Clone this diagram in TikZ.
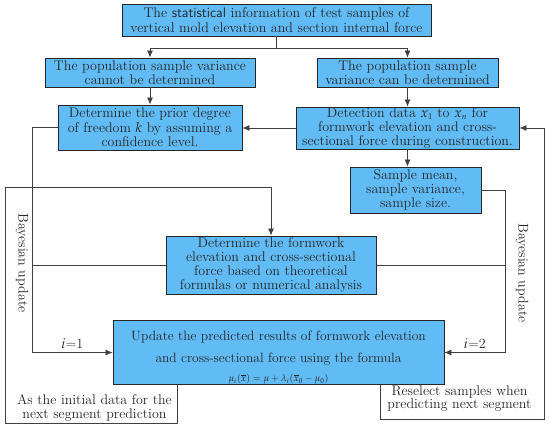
\documentclass[tikz,border=0pt]{standalone}
\usepackage{mathpazo}
\usetikzlibrary{arrows.meta, positioning}
\definecolor{boxblue}{RGB}{97,187,245}

\begin{document}
\begin{tikzpicture}[x=1pt,y=-1pt,>={Latex[length=7pt,width=6pt]},
  box/.style={draw=black!85, fill=boxblue, line width=0.9pt, align=center,
    inner sep=0pt, font=\fontsize{14}{14.3}\selectfont, text=black!85},
  link/.style={draw=black!75, line width=0.8pt},
  lbl/.style={align=center, font=\fontsize{14}{13.5}\selectfont, text=black!85}]

\useasboundingbox (0,0) rectangle (550,428);

% define the boxes
  \node[box, minimum width=309pt, minimum height=32pt] (info) at (276.5,20)
{The \textsf{statistical} information of test samples of\\vertical mold elevation and section internal force};
  \node[box, minimum width=210pt, minimum height=29pt] (cannot) at (150,72.5)
{The population sample variance\\cannot be determined};
  \node[box, minimum width=181pt, minimum height=29pt] (can) at (407.5,72.5)
{The population sample\\variance can be determined};
  \node[box, minimum width=184pt, minimum height=45pt] (prior) at (150,127.5)
{Determine the prior degree\\of freedom $k$ by assuming a\\confidence level.};
  \node[box, minimum width=223pt, minimum height=42pt] (detect) at (407.5,128)
{Detection data $x_{\scriptscriptstyle 1}$ to $x_{\scriptscriptstyle n}$ for\\formwork elevation and cross-\\sectional force during construction.};
  \node[box, minimum width=131pt, minimum height=46pt] (sample) at (415.5,190)
{Sample mean,\\sample variance,\\sample size.};
  \node[box, minimum width=210pt, minimum height=58pt] (theory) at (271,265)
{Determine the formwork\\elevation and cross-sectional\\force based on theoretical\\formulas or numerical analysis};
  \node[box, minimum width=331pt, minimum height=63pt, font=\fontsize{13.5}{15}\selectfont] (update) at (278.5,352.5)
{\rule{0pt}{19.5pt}Update the predicted results of formwork elevation\\[7pt]and cross-sectional force using the formula\\[4pt]
{\fontsize{9.5}{10}\selectfont $\mu_i(\overline{x}) = \mu + \lambda_i(\overline{x}_0 - \mu_0)$}};

% helper points
  \coordinate (split) at (276.5,48);
  \coordinate (lbay) at (32,352.5);
  \coordinate (rbay) at (505,352.5);
  \coordinate (ldown) at (177,423);
  \coordinate (lup) at (5,187);
  \coordinate (rdown) at (380,419);
  \coordinate (rup) at (544,128);

% define the links
  \draw[link] (info.south) -- (split);
  \draw[link,->] (split) -| (cannot.north);
  \draw[link,->] (split) -| (can.north);
  \draw[link,->] (cannot.south) -- (prior.north);
  \draw[link,->] (can.south) -- (detect.north);
  \draw[link,->] (detect.west) -- (detect.west -| prior.east);
  \draw[link,->] (detect.south) -- (detect.south |- sample.north);

  \draw[link,->] (prior.west) -| (lbay) -- node[lbl, above] {$i$=1} (update.west);
  \draw[link] (theory.west) -- (theory.west -| lbay);
  \draw[link,->] (sample.east) -| (rbay) -- node[lbl, above] {$i$=2} (update.east);
  \draw[link] (theory.east) -- (theory.east -| rbay);

  \draw[link,->] (ldown |- update.south) -- (ldown) -| (lup) -| (theory.north);
  \draw[link,->] (rdown |- update.south) -- (rdown) -| (rup) -- (detect.east);

% labels
  \node[lbl, rotate=-90] (bayl) at (22,263) {Bayesian update};
  \node[lbl, rotate=-90] (bayr) at (522,273) {Bayesian update};
  \node[lbl] (initial) at (94.5,408)
{As the initial data for the\\next segment prediction};
  \node[lbl] (reselect) at (459.5,398.5)
{Reselect samples when\\predicting next segment};

\end{tikzpicture}
\end{document}
